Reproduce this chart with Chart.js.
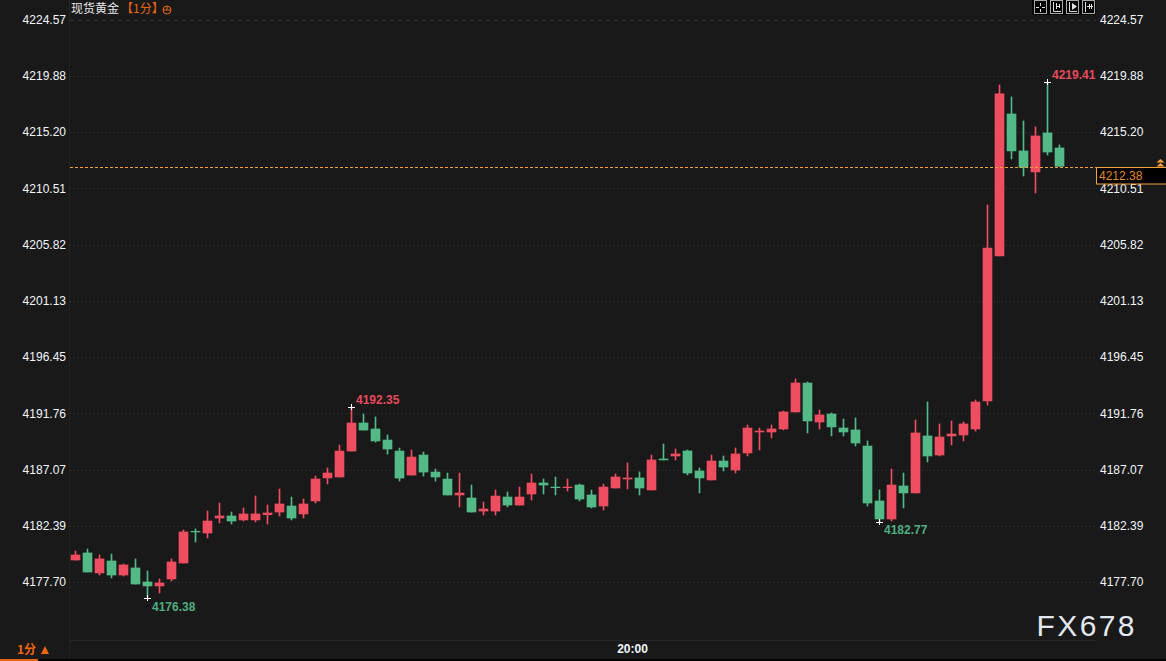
<!DOCTYPE html>
<html><head><meta charset="utf-8">
<style>html,body{margin:0;padding:0;background:#191919;overflow:hidden}#w{position:relative;width:1166px;height:661px}canvas{display:block}</style>
<script src="https://cdn.jsdelivr.net/npm/chart.js@4"></script>
</head><body><div id="w"><canvas id="c" width="1166" height="661"></canvas></div>
<script>
const yTicks=[4224.57,4219.88,4215.20,4210.51,4205.82,4201.13,4196.45,4191.76,4187.07,4182.39,4177.70];
const open=[4179.57,4180.16,4178.49,4179.49,4178.32,4178.91,4177.74,4177.41,4177.99,4179.32,4181.96,4181.82,4183.07,4183.24,4182.91,4182.91,4183.35,4183.57,4184.07,4183.41,4184.49,4186.41,4186.49,4188.65,4190.99,4190.49,4189.57,4188.65,4186.65,4188.32,4186.90,4186.32,4184.99,4184.74,4183.65,4183.65,4184.82,4184.15,4185.07,4185.99,4185.65,4185.60,4185.82,4184.99,4184.07,4185.57,4186.32,4186.41,4185.41,4187.99,4188.24,4188.66,4186.99,4186.24,4187.82,4187.07,4188.49,4190.24,4190.24,4190.49,4191.91,4194.32,4191.07,4191.74,4190.57,4190.41,4189.07,4184.49,4182.99,4185.74,4185.16,4189.91,4188.32,4189.91,4189.99,4190.49,4192.82,4204.91,4216.74,4213.66,4211.91,4215.16,4213.91];
const high=[4180.32,4180.49,4179.99,4180.07,4179.24,4179.66,4178.66,4177.99,4179.66,4182.07,4182.16,4183.66,4184.32,4183.57,4183.91,4184.91,4184.16,4185.49,4184.82,4184.66,4186.57,4187.24,4189.15,4192.35,4191.74,4191.49,4189.99,4188.90,4188.74,4188.57,4187.15,4186.82,4186.82,4185.82,4184.40,4185.40,4185.24,4185.65,4186.74,4186.32,4186.49,4186.32,4185.90,4185.40,4185.90,4186.74,4187.66,4186.91,4188.32,4189.24,4188.82,4188.74,4187.24,4188.32,4188.24,4188.91,4190.82,4190.57,4190.82,4191.99,4194.66,4194.41,4192.07,4191.82,4191.32,4191.41,4189.49,4185.41,4187.16,4186.82,4191.24,4192.74,4190.91,4191.16,4191.07,4192.91,4209.16,4219.16,4218.16,4216.16,4215.66,4219.41,4214.16];
const low=[4179.57,4178.57,4178.32,4178.07,4178.24,4177.57,4176.38,4176.82,4177.82,4179.32,4181.07,4181.41,4182.66,4182.57,4182.82,4182.74,4182.57,4183.24,4182.91,4183.07,4184.32,4185.91,4186.49,4188.65,4190.40,4189.40,4188.40,4186.15,4186.65,4186.57,4186.15,4184.99,4183.99,4183.57,4183.32,4183.32,4183.99,4184.15,4184.57,4185.07,4184.99,4185.32,4184.49,4183.90,4183.74,4185.57,4185.49,4184.99,4185.41,4187.91,4187.91,4186.66,4185.16,4186.24,4186.99,4186.82,4188.24,4188.74,4189.74,4190.41,4191.91,4190.16,4190.49,4189.91,4189.91,4189.07,4184.07,4182.77,4182.82,4183.91,4185.16,4187.74,4188.24,4189.16,4189.49,4190.32,4192.49,4204.91,4212.99,4211.57,4210.16,4213.32,4212.38];
const close=[4179.99,4178.57,4179.66,4178.32,4179.16,4177.57,4177.41,4177.66,4179.41,4181.91,4181.91,4182.82,4183.24,4182.82,4183.41,4183.41,4183.49,4184.24,4183.07,4184.24,4186.32,4186.82,4188.65,4190.99,4190.40,4189.49,4188.82,4186.40,4188.15,4186.90,4186.49,4184.99,4185.15,4183.57,4183.82,4184.90,4184.15,4184.82,4185.99,4185.82,4185.60,4185.65,4184.65,4183.99,4185.65,4186.49,4186.41,4185.57,4187.91,4187.91,4188.41,4186.82,4186.41,4187.82,4187.32,4188.41,4190.57,4190.32,4190.49,4191.91,4194.32,4191.16,4191.66,4190.66,4190.24,4189.32,4184.32,4182.99,4185.82,4185.16,4190.16,4188.24,4189.82,4190.07,4190.91,4192.74,4205.57,4218.41,4213.66,4212.29,4214.91,4213.57,4212.38];
const xIndex=open.map((_,i)=>i+1);
const timeTick=46, timeLabel='20:00';
const lastPrice=4212.38, lastLabel='4212.38';
const extremes=[{i:7,v:4176.38,t:'4176.38',dx:4.5,dy:9,up:false},{i:24,v:4192.35,t:'4192.35',dx:4.5,dy:-6,up:true},{i:68,v:4182.77,t:'4182.77',dx:4.5,dy:9,up:false},{i:82,v:4219.41,t:'4219.41',dx:4.5,dy:-6.5,up:true}];
const RED='#ee4e60',GREEN='#53b987',BG='#191919',GRID='#353535',LABEL='#f2f6fa',ORANGE='#f5a23c',TITLE_O='#e8650f';
const FONT='"Liberation Sans",Arial,sans-serif';
const col=xIndex.map((_,i)=>close[i]>=open[i]?RED:GREEN);
const cv=document.getElementById('c');cv.getContext('2d',{alpha:false});
const ov={id:'ov',
 beforeDraw(ch){const c=ch.ctx;c.save();c.fillStyle=BG;c.fillRect(0,0,ch.width,ch.height);c.restore();},
 afterDraw(ch){const c=ch.ctx,y=ch.scales.y,x=ch.scales.x;c.save();
  c.strokeStyle='#232323';c.lineWidth=1;c.beginPath();c.moveTo(69.5,640);c.lineTo(69.5,659);c.stroke();
  // last-price line and box
  const py=Math.ceil(y.getPixelForValue(lastPrice))+0.5;
  c.strokeStyle=ORANGE;c.lineWidth=1;c.setLineDash([3,2]);c.beginPath();c.moveTo(70,py);c.lineTo(1096,py);c.stroke();c.setLineDash([]);
  c.fillStyle='#000';c.fillRect(1096,167,70,17);c.strokeStyle=ORANGE;c.strokeRect(1096.5,167.5,70,16.5);
  c.font='12px '+FONT;c.fillStyle='#e08a2a';c.textAlign='left';c.textBaseline='middle';c.fillText(lastLabel,1099,177);
  c.fillStyle=ORANGE;for(const t of [159,163]){c.beginPath();c.moveTo(1160.5,t);c.lineTo(1164.5,t+3.5);c.lineTo(1156.5,t+3.5);c.closePath();c.fill();}
  // extremes
  c.font='bold 12px '+FONT;
  for(const e of extremes){const px=x.getPixelForValue(e.i),ey=y.getPixelForValue(e.v);
   const rx=Math.floor(px),ry=Math.round(ey);
   c.strokeStyle='#fff';c.beginPath();c.moveTo(rx-3,ry+.5);c.lineTo(rx+4,ry+.5);c.stroke();
   c.beginPath();c.moveTo(rx+.5,ry-3);c.lineTo(rx+.5,ry+3);c.stroke();
   c.fillStyle=e.up?'#e84a5c':'#4fae80';c.textAlign='left';c.textBaseline='middle';c.fillText(e.t,px+e.dx,ey+e.dy);}
  // header
  c.textAlign='left';c.textBaseline='middle';c.font='12px "Noto Sans CJK SC",sans-serif';c.fillStyle='#e8e8e8';c.fillText('现货黄金',71,8.5);
  c.fillStyle=TITLE_O;c.fillText('【1分】',121,8.5);
  c.strokeStyle=TITLE_O;c.lineWidth=1;c.beginPath();c.arc(167,10,4,0,7);c.moveTo(163,10);c.lineTo(171,10);c.moveTo(167,6);c.lineTo(167,10);c.stroke();
  // toolbar
  c.fillStyle='#000';c.fillRect(1032,0,64,15);
  [1034,1050,1066,1082].forEach((bx,k)=>{c.strokeStyle='#a8a8a8';c.strokeRect(bx+.5,.5,12,13);
   c.strokeStyle='#e0e0e0';c.beginPath();
   if(k===0){c.moveTo(bx+2,7.5);c.lineTo(bx+5,7.5);c.moveTo(bx+8,7.5);c.lineTo(bx+11,7.5);c.moveTo(bx+6.5,3);c.lineTo(bx+6.5,6);c.moveTo(bx+6.5,9);c.lineTo(bx+6.5,12);}
   if(k===1){c.moveTo(bx+3.5,2);c.lineTo(bx+3.5,11.5);c.lineTo(bx+11,11.5);c.moveTo(bx+6.5,3);c.lineTo(bx+6.5,9);c.moveTo(bx+9.5,4);c.lineTo(bx+9.5,8);c.moveTo(bx+6.5,6.5);c.lineTo(bx+9.5,6.5);}
   if(k===2){c.moveTo(bx+3.5,2);c.lineTo(bx+3.5,11.5);c.lineTo(bx+11,11.5);c.stroke();c.beginPath();c.fillStyle='#e0e0e0';c.moveTo(bx+6,3);c.lineTo(bx+11,6.5);c.lineTo(bx+6,10);c.closePath();c.fill();c.beginPath();}
   if(k===3){c.moveTo(bx+3.5,2);c.lineTo(bx+3.5,12);c.stroke();c.beginPath();c.moveTo(bx+5,6.5);c.lineTo(bx+11,6.5);c.moveTo(bx+7.5,4);c.lineTo(bx+7.5,9);c.moveTo(bx+9.5,4);c.lineTo(bx+9.5,9);}
   c.stroke();});
  // watermark
  c.font='30px "Liberation Sans",Arial,sans-serif';c.fillStyle='#e2e8f0';c.textAlign='left';c.textBaseline='alphabetic';
  if('letterSpacing' in c)c.letterSpacing='2.4px';c.fillText('FX678',1036.5,636);if('letterSpacing' in c)c.letterSpacing='0px';
  // bottom bar
  c.fillStyle='#000';c.fillRect(0,659,1166,2);c.fillStyle='#e8650f';c.fillRect(0,659,38,2);
  c.font='bold 12px "Noto Sans CJK SC",sans-serif';c.fillStyle='#f0660f';c.textAlign='left';c.textBaseline='middle';c.fillText('1分',17,649);
  c.beginPath();c.moveTo(45,646);c.lineTo(49,654);c.lineTo(41,654);c.closePath();c.fill();
  c.restore();}};
const noPad=a=>{a.paddingTop=0;a.paddingBottom=0;};
new Chart(cv,{type:'bar',plugins:[ov],
 data:{datasets:[
  {label:'wick',order:2,grouped:false,barThickness:1,backgroundColor:col,borderWidth:0,data:xIndex.map((x,i)=>({x,y:[low[i],high[i]]}))},
  {label:'body',order:1,grouped:false,barThickness:9,backgroundColor:col,borderWidth:0,data:xIndex.map((x,i)=>({x,y:[Math.min(open[i],close[i]),Math.max(open[i],close[i])]}))}
 ]},
 options:{responsive:false,animation:false,devicePixelRatio:1,
  layout:{padding:0},
  plugins:{legend:{display:false},tooltip:{enabled:false},title:{display:false}},
  scales:{
   x:{type:'linear',position:'bottom',min:0.45833,max:86.04167,offset:false,
      afterBuildTicks(a){a.ticks=[{value:timeTick}];},
      afterFit(a){a.height=21;a.paddingLeft=0;a.paddingRight=0;},
      ticks:{callback:()=>timeLabel,color:LABEL,font:{family:FONT,size:12,weight:'bold'},maxRotation:0,padding:2,labelOffset:17,autoSkip:false},
      grid:{color:GRID,drawTicks:false},border:{display:true,color:'#262626',dash:[1,3]}},
   y:{position:'left',min:4172.905,max:4226.238,
      afterBuildTicks(a){a.ticks=yTicks.map(value=>({value}));},
      afterFit(a){a.width=69;noPad(a);},
      ticks:{callback:v=>v.toFixed(2),color:LABEL,font:{family:FONT,size:12},padding:3,autoSkip:false,labelOffset:0.5},
      grid:{color:GRID,drawTicks:false},border:{display:true,color:'#232323',dash:(ctx)=>ctx.tick&&ctx.tick.value===yTicks[0]?[4,4]:[1,3]}},
   y2:{position:'right',min:4172.905,max:4226.238,
      afterBuildTicks(a){a.ticks=yTicks.map(value=>({value}));},
      afterFit(a){a.width=70;noPad(a);},
      ticks:{callback:v=>v.toFixed(2),color:LABEL,font:{family:FONT,size:12},padding:4,autoSkip:false,labelOffset:0.5},
      grid:{display:false,drawTicks:false},border:{display:false}}
  }}});
</script></body></html>
